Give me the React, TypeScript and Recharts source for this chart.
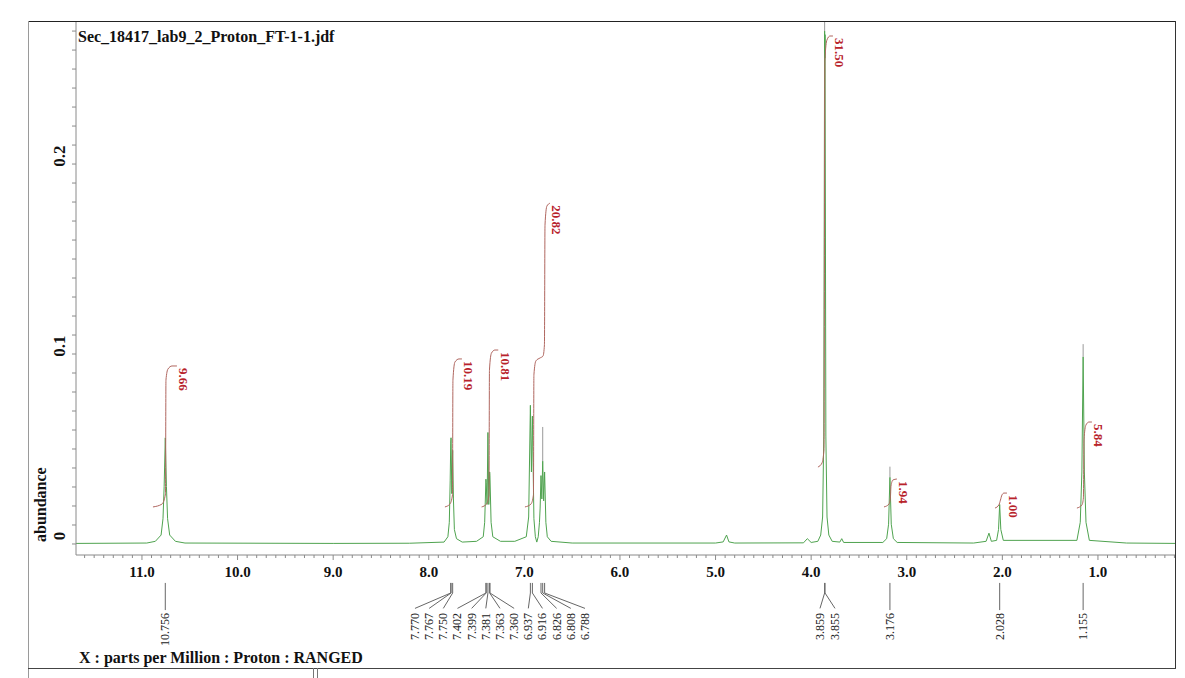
import React from "react";
import {
  Line,
  LineChart,
  ReferenceDot,
  ReferenceLine,
  XAxis,
  YAxis,
} from "recharts";

const FONT = '"Liberation Serif", "Times New Roman", serif';
const GREEN = "#4fa34f";
const INTEGRAL = "#b0665f";
const RED = "#b8232b";
const AXIS = "#8a8a8a";

// ppm, abundance
const spectrumPoints: [number, number][] = [
  [11.69, 0.0003], [10.95, 0.0005], [10.86, 0.0014], [10.8, 0.0047],
  [10.78, 0.0133], [10.768, 0.0303], [10.756, 0.0559], [10.744, 0.0303],
  [10.732, 0.0133], [10.71, 0.0047], [10.65, 0.0014], [10.55, 0.0005],
  [9.0, 0.0003], [8.2, 0.0004], [7.84, 0.001], [7.8, 0.0038],
  [7.785, 0.0114], [7.776, 0.0332], [7.77, 0.0531], [7.767, 0.0559],
  [7.759, 0.0265], [7.75, 0.0493], [7.742, 0.0237], [7.732, 0.0076],
  [7.71, 0.0028], [7.65, 0.001], [7.5, 0.0014], [7.43, 0.0038],
  [7.415, 0.0114], [7.402, 0.0341], [7.399, 0.0322], [7.39, 0.0208],
  [7.381, 0.0587], [7.372, 0.0208], [7.363, 0.0379], [7.36, 0.036],
  [7.348, 0.0114], [7.33, 0.0038], [7.25, 0.0014], [7.1, 0.0014],
  [6.98, 0.0038], [6.955, 0.0142], [6.937, 0.073], [6.926, 0.0379],
  [6.916, 0.0673], [6.9, 0.0133], [6.885, 0.0038], [6.87, 0.001],
  [6.855, 0.0038], [6.842, 0.0114], [6.835, 0.0189], [6.826, 0.036],
  [6.817, 0.0237], [6.808, 0.0436], [6.798, 0.0227], [6.788, 0.0379],
  [6.775, 0.0114], [6.76, 0.0038], [6.72, 0.0014], [6.5, 0.0005],
  [5.0, 0.0005], [4.92, 0.0011], [4.885, 0.0047], [4.86, 0.0011],
  [4.8, 0.0005], [4.08, 0.0006], [4.04, 0.0028], [4.0, 0.0008],
  [3.93, 0.0014], [3.9, 0.0047], [3.88, 0.0142], [3.868, 0.0568],
  [3.859, 0.27], [3.857, 0.2558], [3.855, 0.2681], [3.846, 0.0568],
  [3.834, 0.0142], [3.815, 0.0047], [3.78, 0.0014], [3.7, 0.001],
  [3.68, 0.0028], [3.66, 0.0008], [3.25, 0.0008], [3.21, 0.0028],
  [3.19, 0.0104], [3.176, 0.0351], [3.162, 0.0104], [3.14, 0.0028],
  [3.1, 0.0008], [2.3, 0.0005], [2.17, 0.0014], [2.14, 0.0057],
  [2.115, 0.0014], [2.06, 0.0019], [2.04, 0.0076], [2.028, 0.0208],
  [2.016, 0.0076], [1.99, 0.0019], [1.22, 0.0019], [1.185, 0.0114],
  [1.168, 0.0379], [1.155, 0.0985], [1.142, 0.0379], [1.125, 0.0114],
  [1.09, 0.0019], [0.7, 0.0005], [0.19, 0.0003],
];

// integral traces (ppm, running value in plot units)
const integral966: [number, number][] = [
  [10.885, 0.0195], [10.791, 0.021], [10.754, 0.0263], [10.749, 0.0863],
  [10.728, 0.0921], [10.686, 0.0937], [10.634, 0.0937],
];
const integral1019: [number, number][] = [
  [7.831, 0.0195], [7.779, 0.021], [7.752, 0.0258], [7.747, 0.0863],
  [7.726, 0.0958], [7.684, 0.0974], [7.653, 0.0974],
];
const integral1081: [number, number][] = [
  [7.447, 0.0195], [7.396, 0.021], [7.37, 0.0258], [7.365, 0.0916],
  [7.344, 0.1005], [7.308, 0.1021], [7.273, 0.1021],
];
const integral2082: [number, number][] = [
  [6.994, 0.0195], [6.931, 0.021], [6.905, 0.0258], [6.9, 0.089],
  [6.879, 0.0964], [6.837, 0.0979], [6.805, 0.0989], [6.79, 0.1048],
  [6.784, 0.1679], [6.764, 0.1779], [6.732, 0.1794],
];
const integral3150: [number, number][] = [
  [3.929, 0.0405], [3.887, 0.0426], [3.866, 0.0495], [3.856, 0.2548],
  [3.835, 0.2653], [3.803, 0.2674], [3.772, 0.2674],
];
const integral194: [number, number][] = [
  [3.238, 0.0195], [3.186, 0.021], [3.171, 0.0243], [3.165, 0.0305],
  [3.144, 0.0337], [3.103, 0.0342],
];
const integral100: [number, number][] = [
  [2.077, 0.0189], [2.036, 0.0206], [2.02, 0.0231], [2.004, 0.0258],
  [1.983, 0.0268], [1.952, 0.0268],
];
const integral584: [number, number][] = [
  [1.22, 0.0189], [1.167, 0.0206], [1.152, 0.0243], [1.146, 0.0548],
  [1.126, 0.0626], [1.094, 0.0642], [1.063, 0.0642],
];

const integralLabels = ["9.66", "10.19", "10.81", "20.82", "31.50", "1.94", "1.00", "5.84"];
const integralTraces = [
  integral966, integral1019, integral1081, integral2082,
  integral3150, integral194, integral100, integral584,
];

// peak-pick markers drawn above some peaks: ppm, from, to
const peakMarkers: [number, number, number][] = [
  [3.859, 0.27, 0.2753],
  [3.176, 0.0351, 0.0407],
  [1.155, 0.0985, 0.1052],
  [6.808, 0.0436, 0.0616],
];

// peak lists under the axis
const aromaticPeaks = [7.77, 7.767, 7.75, 7.402, 7.399, 7.381, 7.363, 7.36, 6.937, 6.916, 6.826, 6.808, 6.788];
const methoxyPeaks = [3.859, 3.855];
const singlePeaks = [10.756, 3.176, 2.028, 1.155];

const xMajorTicks = [11, 10, 9, 8, 7, 6, 5, 4, 3, 2, 1];
const xMajorLabels = ["11.0", "10.0", "9.0", "8.0", "7.0", "6.0", "5.0", "4.0", "3.0", "2.0", "1.0"];
const yMajorTicks = [0, 0.1, 0.2];
const yMajorLabels = ["0", "0.1", "0.2"];

const xMinorTicks = Array.from({ length: 115 }, (_, i) => Number((0.2 + i * 0.1).toFixed(1)));
const yMinorTicks = Array.from({ length: 28 }, (_, i) => Number((i * 0.01).toFixed(2)));

// layout levels below the baseline, in plot units
const STEM_TOP = -0.0205;
const STEM_KNEE = -0.0258;
const STEM_END = -0.0339;
const SINGLE_END = -0.0348;
const LABEL_TOP = -0.0363;

const spectrum = spectrumPoints.map(([ppm, v]) => ({ ppm, v }));

function spread(peaks: number[], center: number, step: number) {
  const mid = (peaks.length - 1) / 2;
  return peaks.map((p, i) => ({ ppm: p, at: center + (mid - i) * step }));
}

const peakLabelLayout = [
  ...spread(aromaticPeaks, 7.255, 0.1482).map((d) => ({ ...d, fan: true })),
  ...spread(methoxyPeaks, 3.829, 0.157).map((d) => ({ ...d, fan: true })),
  ...singlePeaks.map((p) => ({ ppm: p, at: p, fan: false })),
];

function XTick({ x, y, payload }: any) {
  const v = payload.value;
  const idx = xMajorTicks.findIndex((t) => Math.abs(t - v) < 1e-6);
  return (
    <g>
      <line x1={x} x2={x} y1={y} y2={y + (idx >= 0 ? 5 : 3)} stroke={AXIS} />
      {idx >= 0 && (
        <text
          x={x}
          y={y + 17}
          textAnchor="middle"
          dominantBaseline="central"
          fontFamily={FONT}
          fontWeight="bold"
          fontSize={15}
          fill="#111"
        >
          {xMajorLabels[idx]}
        </text>
      )}
    </g>
  );
}

function YTick({ x, y, payload }: any) {
  const v = payload.value;
  const idx = yMajorTicks.findIndex((t) => Math.abs(t - v) < 1e-6);
  const lx = x - 16;
  const ly = y - 8;
  return (
    <g>
      <line x1={x - 4} x2={x} y1={y} y2={y} stroke={AXIS} />
      {idx >= 0 && (
        <text
          x={lx}
          y={ly}
          transform={`rotate(-90, ${lx}, ${ly})`}
          textAnchor="middle"
          dominantBaseline="central"
          fontFamily={FONT}
          fontWeight="bold"
          fontSize={17}
          fill="#111"
        >
          {yMajorLabels[idx]}
        </text>
      )}
    </g>
  );
}

export default function App() {
  return (
    <div
      style={{
        position: "absolute",
        left: 0,
        top: 0,
        width: 1185,
        height: 678,
        background: "#fff",
        overflow: "hidden",
      }}
    >
      <LineChart
        width={1185}
        height={678}
        margin={{ top: 21, right: 10, bottom: 103, left: 28 }}
      >
        <XAxis
          type="number"
          dataKey="ppm"
          domain={[0.194, 11.69]}
          reversed
          allowDataOverflow
          ticks={xMinorTicks}
          interval={0}
          tick={<XTick />}
          tickLine={false}
          tickSize={0}
          tickMargin={0}
          height={20}
          axisLine={{ stroke: AXIS }}
        />
        <YAxis
          type="number"
          domain={[-0.0058, 0.2753]}
          allowDataOverflow
          ticks={yMinorTicks}
          interval={0}
          tick={<YTick />}
          tickLine={false}
          tickSize={0}
          tickMargin={0}
          width={48}
          axisLine={{ stroke: AXIS }}
        />
        <Line
          data={spectrum}
          dataKey="v"
          type="linear"
          stroke={GREEN}
          strokeWidth={1}
          dot={false}
          isAnimationActive={false}
        />
        {integralTraces.map((tr, i) => (
          <Line
            key={"int" + i}
            data={tr.map(([ppm, v]) => ({ ppm, v }))}
            dataKey="v"
            type="monotone"
            stroke={INTEGRAL}
            strokeWidth={1}
            dot={false}
            isAnimationActive={false}
          />
        ))}
        {integralTraces.map((tr, i) => {
          const [ppm, v] = tr[tr.length - 1];
          return (
            <ReferenceDot
              key={"il" + i}
              x={ppm}
              y={v}
              ifOverflow="visible"
              shape={(p: any) => (
                <text
                  x={p.cx + 7}
                  y={p.cy + 2}
                  transform={`rotate(90, ${p.cx + 7}, ${p.cy + 2})`}
                  textAnchor="start"
                  dominantBaseline="central"
                  fontFamily={FONT}
                  fontWeight="bold"
                  fontSize={13}
                  fill={RED}
                >
                  {integralLabels[i]}
                </text>
              )}
            />
          );
        })}
        {peakMarkers.map(([ppm, lo, hi], i) => (
          <ReferenceLine
            key={"pm" + i}
            segment={[{ x: ppm, y: lo }, { x: ppm, y: hi }]}
            stroke="#9a9a9a"
            ifOverflow="visible"
          />
        ))}
        {peakLabelLayout.map((d, i) => (
          <ReferenceLine
            key={"st" + i}
            segment={[{ x: d.ppm, y: STEM_TOP }, { x: d.ppm, y: STEM_KNEE }]}
            stroke="#666"
            ifOverflow="visible"
          />
        ))}
        {peakLabelLayout.map((d, i) => (
          <ReferenceLine
            key={"fan" + i}
            segment={[{ x: d.ppm, y: STEM_KNEE }, { x: d.at, y: d.fan ? STEM_END : SINGLE_END }]}
            stroke="#666"
            ifOverflow="visible"
          />
        ))}
        {peakLabelLayout.map((d, i) => (
          <ReferenceDot
            key={"pl" + i}
            x={d.at}
            y={LABEL_TOP}
            ifOverflow="visible"
            shape={(p: any) => (
              <text
                x={p.cx}
                y={p.cy}
                transform={`rotate(-90, ${p.cx}, ${p.cy})`}
                textAnchor="end"
                dominantBaseline="central"
                fontFamily={FONT}
                fontSize={12}
                fill="#222"
              >
                {d.ppm.toFixed(3)}
              </text>
            )}
          />
        ))}
      </LineChart>
      <svg
        width={1185}
        height={678}
        style={{ position: "absolute", left: 0, top: 0, pointerEvents: "none" }}
      >
        <line x1={28} y1={21.5} x2={1175} y2={21.5} stroke="#222" />
        <line x1={28.5} y1={21} x2={28.5} y2={678} stroke="#9a9a9a" />
        <line x1={1175.5} y1={21} x2={1175.5} y2={669} stroke="#333" />
        <line x1={28} y1={668.5} x2={1176} y2={668.5} stroke="#444" />
        <line x1={313.5} y1={668} x2={313.5} y2={678} stroke="#777" />
        <line x1={317.5} y1={668} x2={317.5} y2={678} stroke="#777" />
        <text x={78} y={42} fontFamily={FONT} fontWeight="bold" fontSize={16} fill="#111">
          Sec_18417_lab9_2_Proton_FT-1-1.jdf
        </text>
        <text
          x={40}
          y={542}
          transform="rotate(-90, 40, 542)"
          textAnchor="start"
          dominantBaseline="central"
          fontFamily={FONT}
          fontWeight="bold"
          fontSize={16}
          fill="#111"
        >
          abundance
        </text>
        <text x={79} y={663} fontFamily={FONT} fontWeight="bold" fontSize={16} fill="#111">
          X : parts per Million : Proton : RANGED
        </text>
      </svg>
    </div>
  );
}
